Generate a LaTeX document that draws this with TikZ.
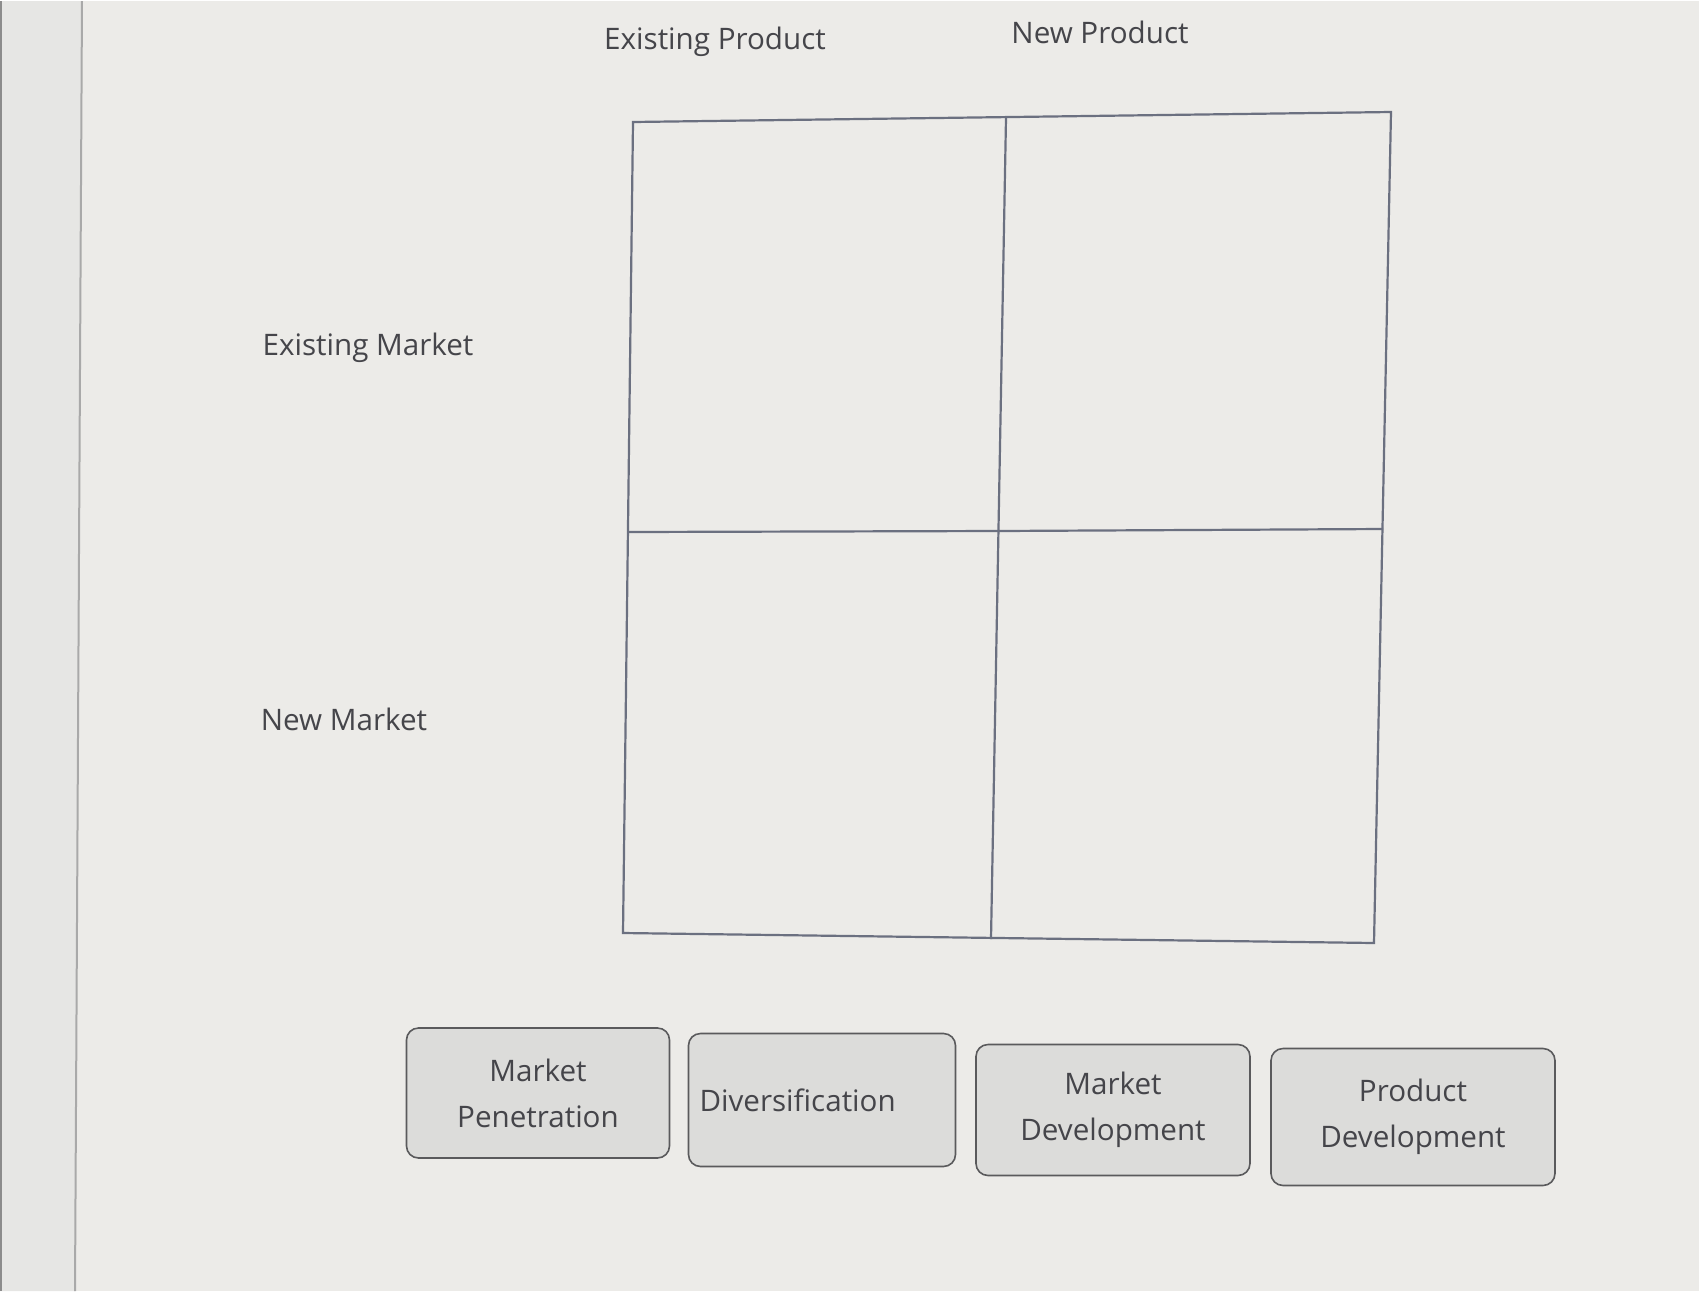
\documentclass[tikz,border=0pt]{standalone}
\usepackage{fontspec}
\setmainfont{Open Sans}
\definecolor{pagegray}{HTML}{ECEBE8}
\definecolor{stripgray}{HTML}{E6E6E4}
\definecolor{edgegray}{HTML}{A9A9A9}
\definecolor{gridline}{HTML}{6B7080}
\definecolor{labelgray}{HTML}{45454A}
\definecolor{boxfill}{HTML}{DCDCDA}
\definecolor{boxline}{HTML}{5A5A5C}

\begin{document}
\begin{tikzpicture}[x=0.5pt,y=-0.5pt,
    heading/.style ={text=labelgray, font=\fontsize{14.8}{17}\selectfont},
    choice/.style ={draw=boxline, fill=boxfill, rounded corners=6pt, line width=0.8pt,
      text=labelgray, align=center, inner sep=0pt, font=\fontsize{14.8}{23}\selectfont},
    cell/.style ={draw=gridline, line width=1.1pt}]
   % page
   \fill[pagegray] (0,0) rectangle (1699,1290);
   \fill[stripgray] (0,0) -- (82,0) -- (75,1290) -- (0,1290) -- cycle;
   \draw[edgegray, line width=1pt] (82,0) -- (75,1290);
   \fill[black!45] (0,0) rectangle (1.5,1290);

   % column and row headings
   \node[heading] (EP) at (715,41)  {Existing Product};
   \node[heading] (NP) at (1100,31) {New Product};
   \node[heading] (EM) at (368,347) {Existing Market};
   \node[heading] (NM) at (344,718) {New Market};

   % the matrix
   \coordinate (TL) at (633,121);
   \coordinate (TM) at (1006,117);
   \coordinate (TR) at (1391,111);
   \coordinate (ML) at (628,531);
   \coordinate (MM) at (999,530);
   \coordinate (MR) at (1383,528);
   \coordinate (BL) at (623,932);
   \coordinate (BM) at (991,938);
   \coordinate (BR) at (1374,942);

   \draw[cell] (TL) -- (TR) -- (BR) -- (BL) -- cycle;
   \draw[cell] (TM) -- (BM);
   \draw[cell] (ML) -- (MM);
   \draw[cell] (MM) -- (MR);

   % answer boxes
   \node[choice, minimum width=131.5pt, minimum height=65pt] (MP) at (538,1092)
     {Market\\Penetration};
   \node[choice, minimum width=133.5pt, minimum height=66.5pt, align=left,
     text width=122.5pt, inner xsep=5.5pt] (DV) at (822,1099) {Diversification};
   \node[choice, minimum width=137pt, minimum height=65.5pt] (MD) at (1113,1109)
     {Market\\Development};
   \node[choice, minimum width=142pt, minimum height=68.5pt] (PD) at (1413,1116)
     {Product\\Development};
 \end{tikzpicture}
\end{document}
